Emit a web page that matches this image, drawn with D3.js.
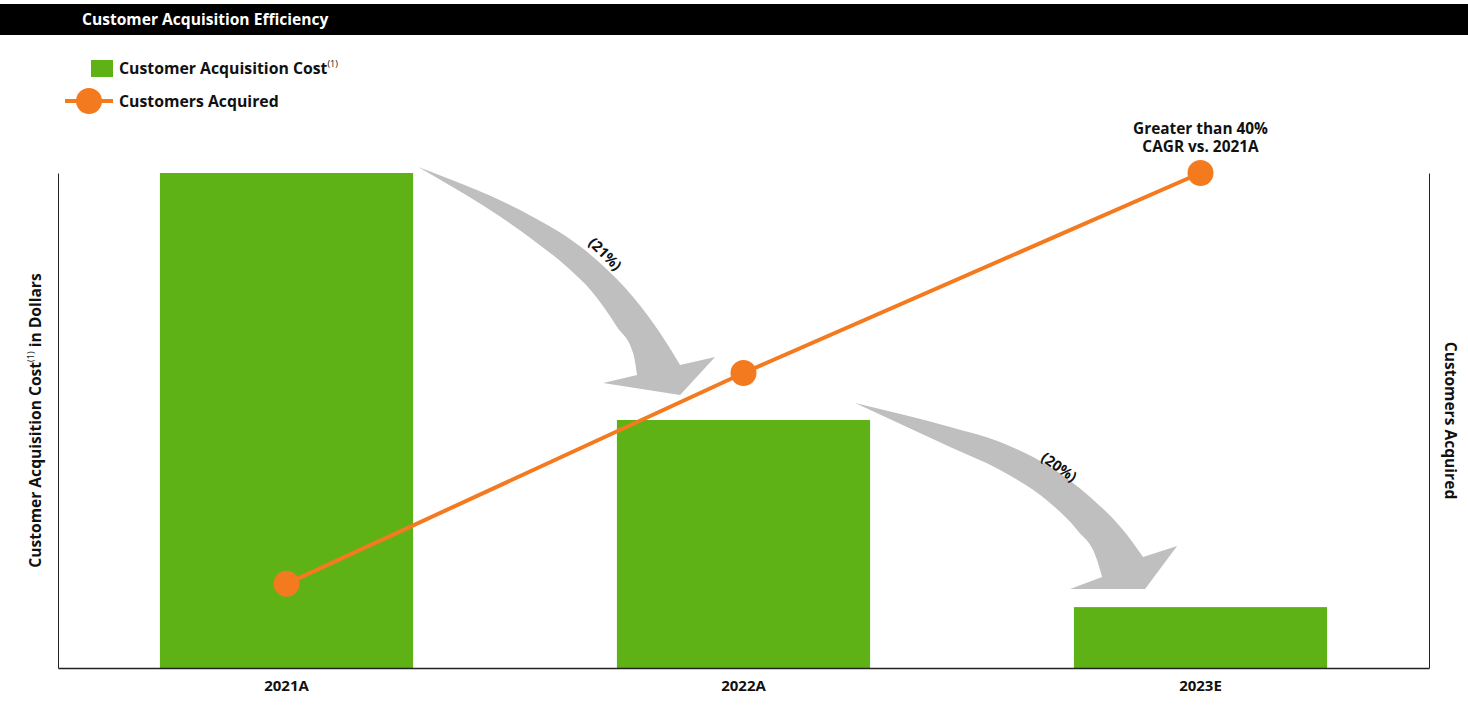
<!DOCTYPE html>
<html>
<head>
<meta charset="utf-8">
<script src="https://cdn.jsdelivr.net/npm/d3@7"></script>
<style>
  body { margin: 0; background: #fff; }
  svg { display: block; font-family: "Open Sans", "Noto Sans", sans-serif; font-weight: 700; }
</style>
</head>
<body>
<svg id="chart" width="1468" height="712"></svg>
<script>
// DATA (chart is illustrative, values read as relative heights)
const categories = ["2021A", "2022A", "2023E"];
const cac_values = [100, 50.1, 12.3];        // customer acquisition cost, index
const customers_values = [17, 59.6, 100];    // customers acquired, index
const change_labels = ["(21%)", "(20%)"];
const cagr_note = ["Greater than 40%", "CAGR vs. 2021A"];

const green = "#5fb215";
const orange = "#f47a1f";
const grey = "#bfbfbf";

const svg = d3.select("#chart");
const m = {left: 58, right: 1429, top: 173, bottom: 668};

// title bar
svg.append("rect").attr("x", 0).attr("y", 4).attr("width", 1468).attr("height", 31).attr("fill", "#000");
svg.append("text").attr("x", 82).attr("y", 25).attr("fill", "#fff")
  .attr("font-size", 15.6).text("Customer Acquisition Efficiency");

// legend
const legend = svg.append("g");
legend.append("rect").attr("x", 91).attr("y", 60).attr("width", 22).attr("height", 17).attr("fill", green);
const lt = legend.append("text").attr("x", 119).attr("y", 74).attr("font-size", 15.8).attr("fill", "#111");
lt.append("tspan").text("Customer Acquisition Cost");
lt.append("tspan").attr("font-size", 9).attr("font-weight", 400).attr("dy", -7).text("(1)");
legend.append("line").attr("x1", 65).attr("x2", 113).attr("y1", 101).attr("y2", 101)
  .attr("stroke", orange).attr("stroke-width", 4);
legend.append("circle").attr("cx", 89).attr("cy", 101).attr("r", 13).attr("fill", orange);
legend.append("text").attr("x", 119).attr("y", 107).attr("font-size", 15.8).attr("fill", "#111").text("Customers Acquired");

// scales
const x = d3.scaleBand().domain(categories).range([m.left, m.right])
  .paddingInner(0.446).paddingOuter(0.223);
const yL = d3.scaleLinear().domain([0, 100]).range([m.bottom, m.top]);
const yR = d3.scaleLinear().domain([0, 100]).range([m.bottom, m.top]);

// bars
svg.append("g").selectAll("rect").data(categories).join("rect")
  .attr("x", d => x(d))
  .attr("width", x.bandwidth())
  .attr("y", (d, i) => yL(cac_values[i]))
  .attr("height", (d, i) => yL(0) - yL(cac_values[i]))
  .attr("fill", green);

// axes
const xAxis = svg.append("g").attr("transform", `translate(0,${m.bottom})`)
  .call(d3.axisBottom(x).tickSize(0).tickPadding(12));
xAxis.select(".domain").attr("stroke", "#222").attr("stroke-width", 1.5);
xAxis.selectAll("text").attr("font-size", 15).attr("font-family", "Open Sans, sans-serif")
  .attr("font-weight", 700).attr("fill", "#111");

const leftAxis = svg.append("g").attr("transform", `translate(${m.left},0)`)
  .call(d3.axisLeft(yL).tickValues([]).tickSize(0));
leftAxis.select(".domain").attr("stroke", "#222");
const rightAxis = svg.append("g").attr("transform", `translate(${m.right},0)`)
  .call(d3.axisRight(yR).tickValues([]).tickSize(0));
rightAxis.select(".domain").attr("stroke", "#222");

// axis titles
const ly = svg.append("text").attr("transform", `translate(41,${(m.top + m.bottom) / 2}) rotate(-90)`)
  .attr("text-anchor", "middle").attr("font-size", 15.6).attr("fill", "#111");
ly.append("tspan").text("Customer Acquisition Cost");
ly.append("tspan").attr("font-size", 9).attr("font-weight", 400).attr("dy", -7).text("(1)");
ly.append("tspan").attr("dy", 7).text(" in Dollars");
svg.append("text").attr("transform", `translate(1445,${(m.top + m.bottom) / 2}) rotate(90)`)
  .attr("text-anchor", "middle").attr("font-size", 15.6).attr("fill", "#111").text("Customers Acquired");

// curved grey arrows between bars (offsets from the tail point)
const arrowShapes = [
  {upper: [[0,0],[115,50],[149,70],[182,96],[215,130],[242,166],[262,198]],
   head: [[297,190],[262,228],[185,216]],
   lower: [[219,208],[215,186],[199,160],[175,126],[149,100],[115,73],[0,0]],
   label: [187, 87, 45]},
  {upper: [[0,0],[95,24],[145,39],[195,64],[235,94],[268,127],[288,154]],
   head: [[322,143],[290,186],[215,186]],
   lower: [[247,174],[242,157],[222,127],[195,100],[145,67],[95,44],[0,0]],
   label: [204, 64, 35]}
];
const tails = [
  [x(categories[0]) + x.bandwidth() + 5, yL(cac_values[0]) - 6],
  [x(categories[1]) + x.bandwidth() - 15, yL(cac_values[1]) - 17]
];
const curve = d3.line().curve(d3.curveMonotoneX);
arrowShapes.forEach((a, i) => {
  const [tx, ty] = tails[i];
  const sh = p => [tx + p[0], ty + p[1]];
  const d = curve(a.upper.map(sh)) +
    "L" + a.head.map(sh).map(p => p.join(",")).join("L") +
    curve(a.lower.map(sh)).replace(/^M/, "L") + "Z";
  svg.append("path").attr("d", d).attr("fill", grey);
  svg.append("text")
    .attr("transform", `translate(${tx + a.label[0]},${ty + a.label[1]}) rotate(${a.label[2]})`)
    .attr("text-anchor", "middle").attr("dy", "0.35em").attr("font-size", 14.5).attr("fill", "#111")
    .text(change_labels[i]);
});

// customers line
const cx = d => x(d) + x.bandwidth() / 2;
svg.append("path")
  .datum(categories)
  .attr("d", d3.line().x(d => cx(d)).y((d, i) => yR(customers_values[i])))
  .attr("fill", "none").attr("stroke", orange).attr("stroke-width", 4);
svg.append("g").selectAll("circle").data(categories).join("circle")
  .attr("cx", d => cx(d))
  .attr("cy", (d, i) => yR(customers_values[i]))
  .attr("r", 13).attr("fill", orange);

// CAGR note
svg.append("g").selectAll("text").data(cagr_note).join("text")
  .attr("text-anchor", "middle").attr("font-size", 15.4).attr("fill", "#111")
  .attr("x", cx(categories[2]))
  .attr("y", (d, i) => 134 + i * 18)
  .text(d => d);
</script>
</body>
</html>
